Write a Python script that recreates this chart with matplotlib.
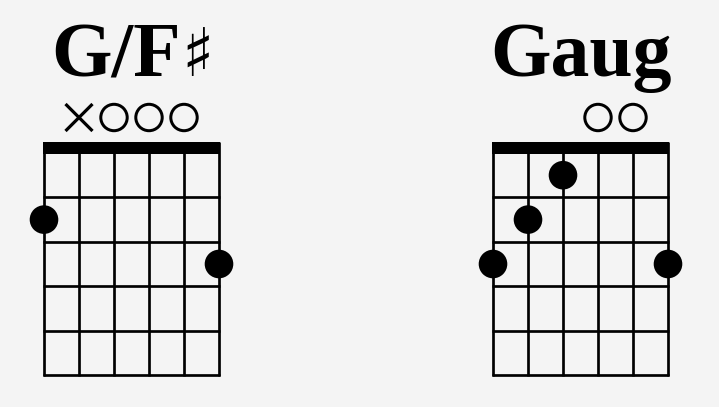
import matplotlib
matplotlib.use("Agg")
import matplotlib.pyplot as plt
from matplotlib.patches import Circle, Rectangle

# ---- data ----
chord_names = ["G/F\u266f", "Gaug"]
# frets per string, low E (left) to high e (right); -1 = muted, 0 = open
gf_sharp_frets = [2, -1, 0, 0, 0, 3]
gaug_frets = [3, 2, 1, 0, 0, 3]
chord_frets = [gf_sharp_frets, gaug_frets]
n_frets = 5

# ---- layout (pixels) ----
W, H = 719, 407
diag_left = [44, 493]
string_gap = 35.0
fret_gap = 44.4
nut_top = 142
grid_top = 153
marker_y = 117.5
title_y = 76
bg = "#f4f4f4"

fig = plt.figure(figsize=(W / 100, H / 100), dpi=100, facecolor=bg)
ax = fig.add_axes([0, 0, 1, 1])
ax.set_xlim(0, W)
ax.set_ylim(H, 0)
ax.set_facecolor(bg)
ax.axis("off")
renderer = fig.canvas.get_renderer()

px = 0.72  # points per pixel at dpi 100
lw = 2.7 * px
title_fs = 56


def draw_title(name, cx):
    accidental = ""
    base = name
    if name and name[-1] in "\u266f\u266d":
        base, accidental = name[:-1], name[-1]
    t1 = ax.text(0, title_y, base, ha="left", va="baseline", fontsize=title_fs,
                 fontweight="bold", family="Liberation Serif", color="black")
    w1 = t1.get_window_extent(renderer).width
    w2 = 0
    gap = 1
    t2 = None
    if accidental:
        t2 = ax.text(0, title_y, accidental, ha="left", va="baseline",
                     fontsize=title_fs * 0.86, fontweight="normal",
                     family="DejaVu Sans", color="black")
        w2 = t2.get_window_extent(renderer).width + gap
    left = cx - (w1 + w2) / 2
    t1.set_x(left)
    if t2 is not None:
        t2.set_x(left + w1 + gap)


for name, frets, x0 in zip(chord_names, chord_frets, diag_left):
    xs = [x0 + i * string_gap for i in range(6)]
    grid_bottom = grid_top + n_frets * fret_gap
    # strings
    for x in xs:
        ax.plot([x, x], [nut_top, grid_bottom + 1], color="black", lw=lw,
                solid_capstyle="butt")
    # frets
    for k in range(1, n_frets + 1):
        y = grid_top + k * fret_gap
        ax.plot([xs[0] - 1.3, xs[-1] + 1.3], [y, y], color="black", lw=lw,
                solid_capstyle="butt")
    # nut
    ax.add_patch(Rectangle((xs[0] - 1.3, nut_top), xs[-1] - xs[0] + 2.6,
                           grid_top - nut_top + 1, color="black", lw=0))
    # title
    draw_title(name, (xs[0] + xs[-1]) / 2 + 1)
    # markers and dots
    for x, f in zip(xs, frets):
        if f == -1:
            d = 13.5
            ax.plot([x - d, x + d], [marker_y - d, marker_y + d], color="black",
                    lw=3.2 * px, solid_capstyle="butt")
            ax.plot([x - d, x + d], [marker_y + d, marker_y - d], color="black",
                    lw=3.2 * px, solid_capstyle="butt")
        elif f == 0:
            ax.add_patch(Circle((x, marker_y), 13.2, fill=False,
                                ec="black", lw=3.0 * px))
        else:
            y = grid_top + (f - 0.5) * fret_gap
            ax.add_patch(Circle((x, y), 14.3, color="black", lw=0, zorder=5))

fig.savefig("out.png", dpi=100, facecolor=bg)
